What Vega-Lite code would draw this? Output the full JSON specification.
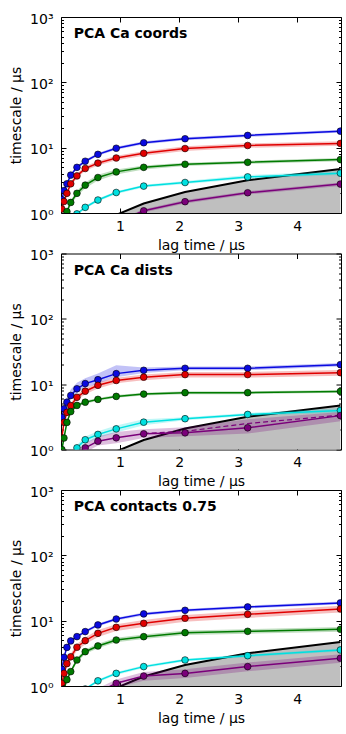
{
  "$schema": "https://vega.github.io/schema/vega-lite/v6.json",
  "autosize": {"type": "pad"},
  "padding": {"left": 9, "top": 11, "right": 4, "bottom": 4},
  "spacing": 40.5,
  "bounds": "flush",
  "config": {
    "view": {"stroke": "black", "strokeWidth": 1},
    "font": "DejaVu Sans",
    "axis": {"labelFont": "DejaVu Sans", "labelFontSize": 14, "labelColor": "black", "titleFont": "DejaVu Sans", "titleFontSize": 14, "titleFontWeight": "normal", "titleColor": "black", "tickColor": "black", "tickWidth": 1, "domain": false, "grid": false}
  },
  "datasets": {
    "d": [
      {"x": 0.015, "t": 0.015}, {"x": 0.05, "t": 0.05}, {"x": 0.1, "t": 0.1}, {"x": 0.165, "t": 0.165}, {"x": 0.27, "t": 0.27}, {"x": 0.41, "t": 0.41}, {"x": 0.625, "t": 0.625}, {"x": 0.935, "t": 0.935}, {"x": 1.4, "t": 1.4}, {"x": 2.1, "t": 2.1}, {"x": 3.16, "t": 3.16}, {"x": 4.73, "t": 4.73}
    ],
    "s": [
      {"p": 1, "s": "blue", "x": 0.015, "y": 1.6, "lo": 1.52, "hi": 1.68},
      {"p": 1, "s": "blue", "x": 0.05, "y": 2.2, "lo": 2.09, "hi": 2.31},
      {"p": 1, "s": "blue", "x": 0.1, "y": 2.8, "lo": 2.66, "hi": 2.94},
      {"p": 1, "s": "blue", "x": 0.165, "y": 3.8, "lo": 3.61, "hi": 3.99},
      {"p": 1, "s": "blue", "x": 0.27, "y": 5.0, "lo": 4.75, "hi": 5.25},
      {"p": 1, "s": "blue", "x": 0.41, "y": 6.2, "lo": 5.89, "hi": 6.51},
      {"p": 1, "s": "blue", "x": 0.625, "y": 7.9, "lo": 7.5, "hi": 8.3},
      {"p": 1, "s": "blue", "x": 0.935, "y": 9.8, "lo": 9.3, "hi": 10.3},
      {"p": 1, "s": "blue", "x": 1.4, "y": 11.9, "lo": 11.3, "hi": 12.5},
      {"p": 1, "s": "blue", "x": 2.1, "y": 13.7, "lo": 13.0, "hi": 14.4},
      {"p": 1, "s": "blue", "x": 3.16, "y": 15.4, "lo": 14.6, "hi": 16.2},
      {"p": 1, "s": "blue", "x": 4.73, "y": 17.9, "lo": 17.0, "hi": 18.8},
      {"p": 1, "s": "red", "x": 0.015, "y": 1.15, "lo": 1.06, "hi": 1.24},
      {"p": 1, "s": "red", "x": 0.05, "y": 1.5, "lo": 1.38, "hi": 1.62},
      {"p": 1, "s": "red", "x": 0.1, "y": 2.0, "lo": 1.84, "hi": 2.16},
      {"p": 1, "s": "red", "x": 0.165, "y": 2.8, "lo": 2.58, "hi": 3.02},
      {"p": 1, "s": "red", "x": 0.27, "y": 3.7, "lo": 3.4, "hi": 4.0},
      {"p": 1, "s": "red", "x": 0.41, "y": 4.8, "lo": 4.42, "hi": 5.18},
      {"p": 1, "s": "red", "x": 0.625, "y": 5.8, "lo": 5.34, "hi": 6.26},
      {"p": 1, "s": "red", "x": 0.935, "y": 6.95, "lo": 6.4, "hi": 7.5},
      {"p": 1, "s": "red", "x": 1.4, "y": 8.2, "lo": 7.55, "hi": 8.85},
      {"p": 1, "s": "red", "x": 2.1, "y": 9.7, "lo": 8.9, "hi": 10.5},
      {"p": 1, "s": "red", "x": 3.16, "y": 10.8, "lo": 9.95, "hi": 11.65},
      {"p": 1, "s": "red", "x": 4.73, "y": 11.6, "lo": 10.7, "hi": 12.5},
      {"p": 1, "s": "green", "x": 0.015, "y": 0.6, "lo": 0.56, "hi": 0.64},
      {"p": 1, "s": "green", "x": 0.05, "y": 0.8, "lo": 0.75, "hi": 0.85},
      {"p": 1, "s": "green", "x": 0.1, "y": 1.05, "lo": 0.98, "hi": 1.12},
      {"p": 1, "s": "green", "x": 0.165, "y": 1.45, "lo": 1.33, "hi": 1.57},
      {"p": 1, "s": "green", "x": 0.27, "y": 2.0, "lo": 1.8, "hi": 2.2},
      {"p": 1, "s": "green", "x": 0.41, "y": 2.67, "lo": 2.4, "hi": 2.94},
      {"p": 1, "s": "green", "x": 0.625, "y": 3.49, "lo": 3.14, "hi": 3.84},
      {"p": 1, "s": "green", "x": 0.935, "y": 4.26, "lo": 3.9, "hi": 4.65},
      {"p": 1, "s": "green", "x": 1.4, "y": 5.0, "lo": 4.65, "hi": 5.35},
      {"p": 1, "s": "green", "x": 2.1, "y": 5.57, "lo": 5.25, "hi": 5.9},
      {"p": 1, "s": "green", "x": 3.16, "y": 5.97, "lo": 5.65, "hi": 6.3},
      {"p": 1, "s": "green", "x": 4.73, "y": 6.57, "lo": 6.2, "hi": 6.95},
      {"p": 1, "s": "cyan", "x": 0.165, "y": 0.7, "lo": 0.66, "hi": 0.74},
      {"p": 1, "s": "cyan", "x": 0.27, "y": 0.97, "lo": 0.92, "hi": 1.02},
      {"p": 1, "s": "cyan", "x": 0.41, "y": 1.22, "lo": 1.16, "hi": 1.28},
      {"p": 1, "s": "cyan", "x": 0.625, "y": 1.58, "lo": 1.5, "hi": 1.66},
      {"p": 1, "s": "cyan", "x": 0.935, "y": 2.06, "lo": 1.96, "hi": 2.16},
      {"p": 1, "s": "cyan", "x": 1.4, "y": 2.58, "lo": 2.45, "hi": 2.71},
      {"p": 1, "s": "cyan", "x": 2.1, "y": 2.93, "lo": 2.78, "hi": 3.08},
      {"p": 1, "s": "cyan", "x": 3.16, "y": 3.57, "lo": 3.35, "hi": 3.8},
      {"p": 1, "s": "cyan", "x": 4.73, "y": 4.07, "lo": 3.8, "hi": 4.36},
      {"p": 1, "s": "purple", "x": 0.935, "y": 0.72, "lo": 0.68, "hi": 0.76},
      {"p": 1, "s": "purple", "x": 1.4, "y": 1.08, "lo": 1.02, "hi": 1.14},
      {"p": 1, "s": "purple", "x": 2.1, "y": 1.49, "lo": 1.4, "hi": 1.58},
      {"p": 1, "s": "purple", "x": 3.16, "y": 2.04, "lo": 1.92, "hi": 2.16},
      {"p": 1, "s": "purple", "x": 4.73, "y": 2.77, "lo": 2.6, "hi": 2.94},

      {"p": 2, "s": "blue", "x": 0.015, "y": 3.1, "lo": 2.8, "hi": 3.4},
      {"p": 2, "s": "blue", "x": 0.05, "y": 4.2, "lo": 3.8, "hi": 4.8},
      {"p": 2, "s": "blue", "x": 0.1, "y": 5.3, "lo": 4.7, "hi": 6.3},
      {"p": 2, "s": "blue", "x": 0.165, "y": 6.7, "lo": 5.8, "hi": 8.3},
      {"p": 2, "s": "blue", "x": 0.27, "y": 8.5, "lo": 7.3, "hi": 10.5},
      {"p": 2, "s": "blue", "x": 0.41, "y": 10.2, "lo": 8.8, "hi": 12.3},
      {"p": 2, "s": "blue", "x": 0.625, "y": 11.7, "lo": 10.2, "hi": 14.5},
      {"p": 2, "s": "blue", "x": 0.935, "y": 14.5, "lo": 12.8, "hi": 19.5},
      {"p": 2, "s": "blue", "x": 1.4, "y": 16.3, "lo": 14.8, "hi": 18.0},
      {"p": 2, "s": "blue", "x": 2.1, "y": 17.5, "lo": 16.3, "hi": 18.7},
      {"p": 2, "s": "blue", "x": 3.16, "y": 17.5, "lo": 16.4, "hi": 18.6},
      {"p": 2, "s": "blue", "x": 4.73, "y": 19.9, "lo": 18.7, "hi": 21.0},
      {"p": 2, "s": "red", "x": 0.015, "y": 1.5, "lo": 1.35, "hi": 1.65},
      {"p": 2, "s": "red", "x": 0.05, "y": 2.6, "lo": 2.34, "hi": 2.86},
      {"p": 2, "s": "red", "x": 0.1, "y": 3.7, "lo": 3.33, "hi": 4.07},
      {"p": 2, "s": "red", "x": 0.165, "y": 4.7, "lo": 4.23, "hi": 5.17},
      {"p": 2, "s": "red", "x": 0.27, "y": 6.3, "lo": 5.67, "hi": 6.93},
      {"p": 2, "s": "red", "x": 0.41, "y": 7.8, "lo": 7.0, "hi": 8.6},
      {"p": 2, "s": "red", "x": 0.625, "y": 9.6, "lo": 8.6, "hi": 10.6},
      {"p": 2, "s": "red", "x": 0.935, "y": 11.4, "lo": 10.3, "hi": 12.5},
      {"p": 2, "s": "red", "x": 1.4, "y": 12.8, "lo": 11.5, "hi": 14.1},
      {"p": 2, "s": "red", "x": 2.1, "y": 14.0, "lo": 12.6, "hi": 15.4},
      {"p": 2, "s": "red", "x": 3.16, "y": 14.0, "lo": 12.6, "hi": 15.4},
      {"p": 2, "s": "red", "x": 4.73, "y": 15.0, "lo": 13.5, "hi": 16.5},
      {"p": 2, "s": "green", "x": 0.015, "y": 1.0, "lo": 0.95, "hi": 1.05},
      {"p": 2, "s": "green", "x": 0.05, "y": 1.5, "lo": 1.42, "hi": 1.58},
      {"p": 2, "s": "green", "x": 0.1, "y": 2.6, "lo": 2.47, "hi": 2.73},
      {"p": 2, "s": "green", "x": 0.165, "y": 3.8, "lo": 3.6, "hi": 4.0},
      {"p": 2, "s": "green", "x": 0.27, "y": 4.73, "lo": 4.5, "hi": 4.97},
      {"p": 2, "s": "green", "x": 0.41, "y": 5.3, "lo": 5.03, "hi": 5.57},
      {"p": 2, "s": "green", "x": 0.625, "y": 5.85, "lo": 5.55, "hi": 6.15},
      {"p": 2, "s": "green", "x": 0.935, "y": 6.5, "lo": 6.17, "hi": 6.83},
      {"p": 2, "s": "green", "x": 1.4, "y": 7.05, "lo": 6.7, "hi": 7.4},
      {"p": 2, "s": "green", "x": 2.1, "y": 7.4, "lo": 7.03, "hi": 7.77},
      {"p": 2, "s": "green", "x": 3.16, "y": 7.4, "lo": 7.03, "hi": 7.77},
      {"p": 2, "s": "green", "x": 4.73, "y": 7.75, "lo": 7.36, "hi": 8.14},
      {"p": 2, "s": "cyan", "x": 0.165, "y": 0.75, "lo": 0.7, "hi": 0.8},
      {"p": 2, "s": "cyan", "x": 0.27, "y": 1.06, "lo": 0.95, "hi": 1.17},
      {"p": 2, "s": "cyan", "x": 0.41, "y": 1.41, "lo": 1.24, "hi": 1.58},
      {"p": 2, "s": "cyan", "x": 0.625, "y": 1.7, "lo": 1.5, "hi": 1.9},
      {"p": 2, "s": "cyan", "x": 0.935, "y": 2.07, "lo": 1.82, "hi": 2.32},
      {"p": 2, "s": "cyan", "x": 1.4, "y": 2.62, "lo": 2.35, "hi": 2.9},
      {"p": 2, "s": "cyan", "x": 2.1, "y": 2.96, "lo": 2.8, "hi": 3.12},
      {"p": 2, "s": "cyan", "x": 3.16, "y": 3.44, "lo": 3.25, "hi": 3.63},
      {"p": 2, "s": "cyan", "x": 4.73, "y": 3.96, "lo": 3.65, "hi": 4.28},
      {"p": 2, "s": "purple", "x": 0.27, "y": 0.85, "lo": 0.72, "hi": 0.98},
      {"p": 2, "s": "purple", "x": 0.41, "y": 1.06, "lo": 0.9, "hi": 1.25},
      {"p": 2, "s": "purple", "x": 0.625, "y": 1.34, "lo": 1.15, "hi": 1.6},
      {"p": 2, "s": "purple", "x": 0.935, "y": 1.51, "lo": 1.25, "hi": 1.85},
      {"p": 2, "s": "purple", "x": 1.4, "y": 1.74, "lo": 1.5, "hi": 2.05, "m": 1.76},
      {"p": 2, "s": "purple", "x": 2.1, "y": 1.8, "lo": 1.6, "hi": 2.2, "m": 1.9},
      {"p": 2, "s": "purple", "x": 3.16, "y": 2.15, "lo": 1.75, "hi": 2.9, "m": 2.5},
      {"p": 2, "s": "purple", "x": 4.73, "y": 3.3, "lo": 2.7, "hi": 3.75, "m": 3.35},

      {"p": 3, "s": "blue", "x": 0.015, "y": 1.8, "lo": 1.71, "hi": 1.89},
      {"p": 3, "s": "blue", "x": 0.05, "y": 2.75, "lo": 2.61, "hi": 2.89},
      {"p": 3, "s": "blue", "x": 0.1, "y": 3.9, "lo": 3.7, "hi": 4.1},
      {"p": 3, "s": "blue", "x": 0.165, "y": 4.9, "lo": 4.65, "hi": 5.15},
      {"p": 3, "s": "blue", "x": 0.27, "y": 5.7, "lo": 5.4, "hi": 6.0},
      {"p": 3, "s": "blue", "x": 0.41, "y": 6.8, "lo": 6.45, "hi": 7.15},
      {"p": 3, "s": "blue", "x": 0.625, "y": 8.6, "lo": 8.15, "hi": 9.05},
      {"p": 3, "s": "blue", "x": 0.935, "y": 10.6, "lo": 10.1, "hi": 11.1},
      {"p": 3, "s": "blue", "x": 1.4, "y": 12.7, "lo": 12.05, "hi": 13.35},
      {"p": 3, "s": "blue", "x": 2.1, "y": 14.4, "lo": 13.7, "hi": 15.1},
      {"p": 3, "s": "blue", "x": 3.16, "y": 16.2, "lo": 15.4, "hi": 17.0},
      {"p": 3, "s": "blue", "x": 4.73, "y": 18.7, "lo": 17.8, "hi": 19.6},
      {"p": 3, "s": "red", "x": 0.015, "y": 1.1, "lo": 0.97, "hi": 1.23},
      {"p": 3, "s": "red", "x": 0.05, "y": 1.56, "lo": 1.37, "hi": 1.75},
      {"p": 3, "s": "red", "x": 0.1, "y": 2.2, "lo": 1.94, "hi": 2.46},
      {"p": 3, "s": "red", "x": 0.165, "y": 2.8, "lo": 2.46, "hi": 3.14},
      {"p": 3, "s": "red", "x": 0.27, "y": 3.92, "lo": 3.45, "hi": 4.39},
      {"p": 3, "s": "red", "x": 0.41, "y": 4.94, "lo": 4.35, "hi": 5.53},
      {"p": 3, "s": "red", "x": 0.625, "y": 6.4, "lo": 5.63, "hi": 7.17},
      {"p": 3, "s": "red", "x": 0.935, "y": 7.9, "lo": 6.95, "hi": 8.85},
      {"p": 3, "s": "red", "x": 1.4, "y": 9.1, "lo": 8.0, "hi": 10.2},
      {"p": 3, "s": "red", "x": 2.1, "y": 10.9, "lo": 9.6, "hi": 12.2},
      {"p": 3, "s": "red", "x": 3.16, "y": 12.5, "lo": 11.0, "hi": 14.0},
      {"p": 3, "s": "red", "x": 4.73, "y": 15.1, "lo": 13.3, "hi": 16.9},
      {"p": 3, "s": "green", "x": 0.05, "y": 0.9, "lo": 0.83, "hi": 0.97},
      {"p": 3, "s": "green", "x": 0.1, "y": 1.25, "lo": 1.15, "hi": 1.35},
      {"p": 3, "s": "green", "x": 0.165, "y": 1.66, "lo": 1.53, "hi": 1.79},
      {"p": 3, "s": "green", "x": 0.27, "y": 2.5, "lo": 2.3, "hi": 2.7},
      {"p": 3, "s": "green", "x": 0.41, "y": 3.35, "lo": 3.08, "hi": 3.62},
      {"p": 3, "s": "green", "x": 0.625, "y": 4.1, "lo": 3.77, "hi": 4.43},
      {"p": 3, "s": "green", "x": 0.935, "y": 5.06, "lo": 4.66, "hi": 5.46},
      {"p": 3, "s": "green", "x": 1.4, "y": 5.69, "lo": 5.23, "hi": 6.15},
      {"p": 3, "s": "green", "x": 2.1, "y": 6.55, "lo": 6.03, "hi": 7.07},
      {"p": 3, "s": "green", "x": 3.16, "y": 6.87, "lo": 6.32, "hi": 7.42},
      {"p": 3, "s": "green", "x": 4.73, "y": 7.38, "lo": 6.79, "hi": 7.97},
      {"p": 3, "s": "cyan", "x": 0.41, "y": 0.9, "lo": 0.86, "hi": 0.94},
      {"p": 3, "s": "cyan", "x": 0.625, "y": 1.2, "lo": 1.14, "hi": 1.26},
      {"p": 3, "s": "cyan", "x": 0.935, "y": 1.56, "lo": 1.48, "hi": 1.64},
      {"p": 3, "s": "cyan", "x": 1.4, "y": 1.98, "lo": 1.88, "hi": 2.08},
      {"p": 3, "s": "cyan", "x": 2.1, "y": 2.5, "lo": 2.38, "hi": 2.62},
      {"p": 3, "s": "cyan", "x": 3.16, "y": 2.91, "lo": 2.76, "hi": 3.06},
      {"p": 3, "s": "cyan", "x": 4.73, "y": 3.56, "lo": 3.38, "hi": 3.74},
      {"p": 3, "s": "purple", "x": 0.625, "y": 0.8, "lo": 0.68, "hi": 0.92},
      {"p": 3, "s": "purple", "x": 0.935, "y": 1.1, "lo": 0.94, "hi": 1.26},
      {"p": 3, "s": "purple", "x": 1.4, "y": 1.42, "lo": 1.2, "hi": 1.64},
      {"p": 3, "s": "purple", "x": 2.1, "y": 1.56, "lo": 1.33, "hi": 1.8},
      {"p": 3, "s": "purple", "x": 3.16, "y": 1.98, "lo": 1.68, "hi": 2.28},
      {"p": 3, "s": "purple", "x": 4.73, "y": 2.66, "lo": 2.26, "hi": 3.06}
    ]
  },
  "vconcat": [
    {
      "width": 280, "height": 196,
      "resolve": {"axis": {"x": "independent", "y": "independent"}},
      "layer": [
        {"data": {"name": "d"}, "mark": {"type": "area", "color": "#bfbfbf", "clip": true},
         "encoding": {
           "x": {"field": "x", "type": "quantitative", "scale": {"domain": [0, 4.74]}, "axis": {"orient": "bottom", "values": [1, 2, 3, 4], "format": "d", "tickSize": -5, "labelPadding": 11, "title": "lag time / μs", "titlePadding": 5}},
           "y": {"field": "t", "type": "quantitative", "scale": {"type": "log", "domain": [1, 1000]}, "axis": {"orient": "left", "values": [1, 10, 100, 1000], "tickSize": -5, "labelPadding": 13, "labelOffset": 2, "labelExpr": "datum.value == 1 ? '10⁰' : datum.value == 10 ? '10¹' : datum.value == 100 ? '10²' : '10³'", "title": "timescale / μs", "titlePadding": 6}},
           "y2": {"datum": 0.5}}},
        {"data": {"name": "d"}, "mark": {"type": "line", "color": "black", "strokeWidth": 2, "clip": true},
         "encoding": {
           "x": {"field": "x", "type": "quantitative", "scale": {"domain": [0, 4.74]}, "axis": {"orient": "top", "values": [1, 2, 3, 4], "tickSize": -5, "labels": false, "title": null}},
           "y": {"field": "t", "type": "quantitative", "scale": {"type": "log", "domain": [1, 1000]}, "axis": {"orient": "right", "values": [1, 10, 100, 1000], "tickSize": -5, "labels": false, "title": null}}}},
        {"data": {"name": "s"}, "transform": [{"filter": "datum.p == 1"}], "mark": {"type": "area", "opacity": 0.25, "clip": true},
         "encoding": {
           "x": {"field": "x", "type": "quantitative", "scale": {"domain": [0, 4.74]}, "axis": null},
           "y": {"field": "lo", "type": "quantitative", "scale": {"type": "log", "domain": [1, 1000]}, "axis": {"orient": "left", "values": [2, 3, 4, 5, 6, 7, 8, 9, 20, 30, 40, 50, 60, 70, 80, 90, 200, 300, 400, 500, 600, 700, 800, 900], "tickSize": -2.5, "labels": false, "title": null}},
           "y2": {"field": "hi"},
           "color": {"field": "s", "type": "nominal", "scale": {"domain": ["blue", "red", "green", "cyan", "purple"], "range": ["#0a0ae0", "#e00000", "#007a00", "#00e0e0", "#7a007a"]}, "legend": null}}},
        {"data": {"name": "s"}, "transform": [{"filter": "datum.p == 1"}], "mark": {"type": "line", "strokeWidth": 1.5, "clip": true},
         "encoding": {
           "x": {"field": "x", "type": "quantitative", "scale": {"domain": [0, 4.74]}, "axis": null},
           "y": {"field": "y", "type": "quantitative", "scale": {"type": "log", "domain": [1, 1000]}, "axis": {"orient": "right", "values": [2, 3, 4, 5, 6, 7, 8, 9, 20, 30, 40, 50, 60, 70, 80, 90, 200, 300, 400, 500, 600, 700, 800, 900], "tickSize": -2.5, "labels": false, "title": null}},
           "color": {"field": "s", "type": "nominal", "legend": null}}},
        {"data": {"name": "s"}, "transform": [{"filter": "datum.p == 1"}], "mark": {"type": "circle", "size": 45, "opacity": 1, "stroke": "black", "strokeWidth": 0.6, "clip": true},
         "encoding": {
           "x": {"field": "x", "type": "quantitative", "scale": {"domain": [0, 4.74]}, "axis": null},
           "y": {"field": "y", "type": "quantitative", "scale": {"type": "log", "domain": [1, 1000]}, "axis": null},
           "color": {"field": "s", "type": "nominal", "legend": null}}},
        {"data": {"values": [{"label": "PCA Ca coords"}]}, "mark": {"type": "text", "align": "left", "baseline": "alphabetic", "fontWeight": "bold", "fontSize": 14, "font": "DejaVu Sans", "color": "black"},
         "encoding": {
           "x": {"datum": 0.215, "type": "quantitative", "scale": {"domain": [0, 4.74]}, "axis": null},
           "y": {"datum": 470, "type": "quantitative", "scale": {"type": "log", "domain": [1, 1000]}, "axis": null},
           "text": {"field": "label"}}}
      ]
    },
    {
      "width": 280, "height": 196,
      "resolve": {"axis": {"x": "independent", "y": "independent"}},
      "layer": [
        {"data": {"name": "d"}, "mark": {"type": "area", "color": "#bfbfbf", "clip": true},
         "encoding": {
           "x": {"field": "x", "type": "quantitative", "scale": {"domain": [0, 4.74]}, "axis": {"orient": "bottom", "values": [1, 2, 3, 4], "format": "d", "tickSize": -5, "labelPadding": 11, "title": "lag time / μs", "titlePadding": 5}},
           "y": {"field": "t", "type": "quantitative", "scale": {"type": "log", "domain": [1, 1000]}, "axis": {"orient": "left", "values": [1, 10, 100, 1000], "tickSize": -5, "labelPadding": 13, "labelOffset": 2, "labelExpr": "datum.value == 1 ? '10⁰' : datum.value == 10 ? '10¹' : datum.value == 100 ? '10²' : '10³'", "title": "timescale / μs", "titlePadding": 6}},
           "y2": {"datum": 0.5}}},
        {"data": {"name": "d"}, "mark": {"type": "line", "color": "black", "strokeWidth": 2, "clip": true},
         "encoding": {
           "x": {"field": "x", "type": "quantitative", "scale": {"domain": [0, 4.74]}, "axis": {"orient": "top", "values": [1, 2, 3, 4], "tickSize": -5, "labels": false, "title": null}},
           "y": {"field": "t", "type": "quantitative", "scale": {"type": "log", "domain": [1, 1000]}, "axis": {"orient": "right", "values": [1, 10, 100, 1000], "tickSize": -5, "labels": false, "title": null}}}},
        {"data": {"name": "s"}, "transform": [{"filter": "datum.p == 2"}], "mark": {"type": "area", "opacity": 0.25, "clip": true},
         "encoding": {
           "x": {"field": "x", "type": "quantitative", "scale": {"domain": [0, 4.74]}, "axis": null},
           "y": {"field": "lo", "type": "quantitative", "scale": {"type": "log", "domain": [1, 1000]}, "axis": {"orient": "left", "values": [2, 3, 4, 5, 6, 7, 8, 9, 20, 30, 40, 50, 60, 70, 80, 90, 200, 300, 400, 500, 600, 700, 800, 900], "tickSize": -2.5, "labels": false, "title": null}},
           "y2": {"field": "hi"},
           "color": {"field": "s", "type": "nominal", "scale": {"domain": ["blue", "red", "green", "cyan", "purple"], "range": ["#0a0ae0", "#e00000", "#007a00", "#00e0e0", "#7a007a"]}, "legend": null}}},
        {"data": {"name": "s"}, "transform": [{"filter": "datum.p == 2"}], "mark": {"type": "line", "strokeWidth": 1.5, "clip": true},
         "encoding": {
           "x": {"field": "x", "type": "quantitative", "scale": {"domain": [0, 4.74]}, "axis": null},
           "y": {"field": "y", "type": "quantitative", "scale": {"type": "log", "domain": [1, 1000]}, "axis": {"orient": "right", "values": [2, 3, 4, 5, 6, 7, 8, 9, 20, 30, 40, 50, 60, 70, 80, 90, 200, 300, 400, 500, 600, 700, 800, 900], "tickSize": -2.5, "labels": false, "title": null}},
           "color": {"field": "s", "type": "nominal", "legend": null}}},
        {"data": {"name": "s"}, "transform": [{"filter": "datum.p == 2 && isValid(datum.m)"}], "mark": {"type": "line", "strokeWidth": 1.2, "strokeDash": [5, 3], "clip": true},
         "encoding": {
           "x": {"field": "x", "type": "quantitative", "scale": {"domain": [0, 4.74]}, "axis": null},
           "y": {"field": "m", "type": "quantitative", "scale": {"type": "log", "domain": [1, 1000]}, "axis": null},
           "color": {"field": "s", "type": "nominal", "legend": null}}},
        {"data": {"name": "s"}, "transform": [{"filter": "datum.p == 2"}], "mark": {"type": "circle", "size": 45, "opacity": 1, "stroke": "black", "strokeWidth": 0.6, "clip": true},
         "encoding": {
           "x": {"field": "x", "type": "quantitative", "scale": {"domain": [0, 4.74]}, "axis": null},
           "y": {"field": "y", "type": "quantitative", "scale": {"type": "log", "domain": [1, 1000]}, "axis": null},
           "color": {"field": "s", "type": "nominal", "legend": null}}},
        {"data": {"values": [{"label": "PCA Ca dists"}]}, "mark": {"type": "text", "align": "left", "baseline": "alphabetic", "fontWeight": "bold", "fontSize": 14, "font": "DejaVu Sans", "color": "black"},
         "encoding": {
           "x": {"datum": 0.215, "type": "quantitative", "scale": {"domain": [0, 4.74]}, "axis": null},
           "y": {"datum": 470, "type": "quantitative", "scale": {"type": "log", "domain": [1, 1000]}, "axis": null},
           "text": {"field": "label"}}}
      ]
    },
    {
      "width": 280, "height": 196,
      "resolve": {"axis": {"x": "independent", "y": "independent"}},
      "layer": [
        {"data": {"name": "d"}, "mark": {"type": "area", "color": "#bfbfbf", "clip": true},
         "encoding": {
           "x": {"field": "x", "type": "quantitative", "scale": {"domain": [0, 4.74]}, "axis": {"orient": "bottom", "values": [1, 2, 3, 4], "format": "d", "tickSize": -5, "labelPadding": 11, "title": "lag time / μs", "titlePadding": 5}},
           "y": {"field": "t", "type": "quantitative", "scale": {"type": "log", "domain": [1, 1000]}, "axis": {"orient": "left", "values": [1, 10, 100, 1000], "tickSize": -5, "labelPadding": 13, "labelOffset": 2, "labelExpr": "datum.value == 1 ? '10⁰' : datum.value == 10 ? '10¹' : datum.value == 100 ? '10²' : '10³'", "title": "timescale / μs", "titlePadding": 6}},
           "y2": {"datum": 0.5}}},
        {"data": {"name": "d"}, "mark": {"type": "line", "color": "black", "strokeWidth": 2, "clip": true},
         "encoding": {
           "x": {"field": "x", "type": "quantitative", "scale": {"domain": [0, 4.74]}, "axis": {"orient": "top", "values": [1, 2, 3, 4], "tickSize": -5, "labels": false, "title": null}},
           "y": {"field": "t", "type": "quantitative", "scale": {"type": "log", "domain": [1, 1000]}, "axis": {"orient": "right", "values": [1, 10, 100, 1000], "tickSize": -5, "labels": false, "title": null}}}},
        {"data": {"name": "s"}, "transform": [{"filter": "datum.p == 3"}], "mark": {"type": "area", "opacity": 0.25, "clip": true},
         "encoding": {
           "x": {"field": "x", "type": "quantitative", "scale": {"domain": [0, 4.74]}, "axis": null},
           "y": {"field": "lo", "type": "quantitative", "scale": {"type": "log", "domain": [1, 1000]}, "axis": {"orient": "left", "values": [2, 3, 4, 5, 6, 7, 8, 9, 20, 30, 40, 50, 60, 70, 80, 90, 200, 300, 400, 500, 600, 700, 800, 900], "tickSize": -2.5, "labels": false, "title": null}},
           "y2": {"field": "hi"},
           "color": {"field": "s", "type": "nominal", "scale": {"domain": ["blue", "red", "green", "cyan", "purple"], "range": ["#0a0ae0", "#e00000", "#007a00", "#00e0e0", "#7a007a"]}, "legend": null}}},
        {"data": {"name": "s"}, "transform": [{"filter": "datum.p == 3"}], "mark": {"type": "line", "strokeWidth": 1.5, "clip": true},
         "encoding": {
           "x": {"field": "x", "type": "quantitative", "scale": {"domain": [0, 4.74]}, "axis": null},
           "y": {"field": "y", "type": "quantitative", "scale": {"type": "log", "domain": [1, 1000]}, "axis": {"orient": "right", "values": [2, 3, 4, 5, 6, 7, 8, 9, 20, 30, 40, 50, 60, 70, 80, 90, 200, 300, 400, 500, 600, 700, 800, 900], "tickSize": -2.5, "labels": false, "title": null}},
           "color": {"field": "s", "type": "nominal", "legend": null}}},
        {"data": {"name": "s"}, "transform": [{"filter": "datum.p == 3"}], "mark": {"type": "circle", "size": 45, "opacity": 1, "stroke": "black", "strokeWidth": 0.6, "clip": true},
         "encoding": {
           "x": {"field": "x", "type": "quantitative", "scale": {"domain": [0, 4.74]}, "axis": null},
           "y": {"field": "y", "type": "quantitative", "scale": {"type": "log", "domain": [1, 1000]}, "axis": null},
           "color": {"field": "s", "type": "nominal", "legend": null}}},
        {"data": {"values": [{"label": "PCA contacts 0.75"}]}, "mark": {"type": "text", "align": "left", "baseline": "alphabetic", "fontWeight": "bold", "fontSize": 14, "font": "DejaVu Sans", "color": "black"},
         "encoding": {
           "x": {"datum": 0.215, "type": "quantitative", "scale": {"domain": [0, 4.74]}, "axis": null},
           "y": {"datum": 470, "type": "quantitative", "scale": {"type": "log", "domain": [1, 1000]}, "axis": null},
           "text": {"field": "label"}}}
      ]
    }
  ]
}
